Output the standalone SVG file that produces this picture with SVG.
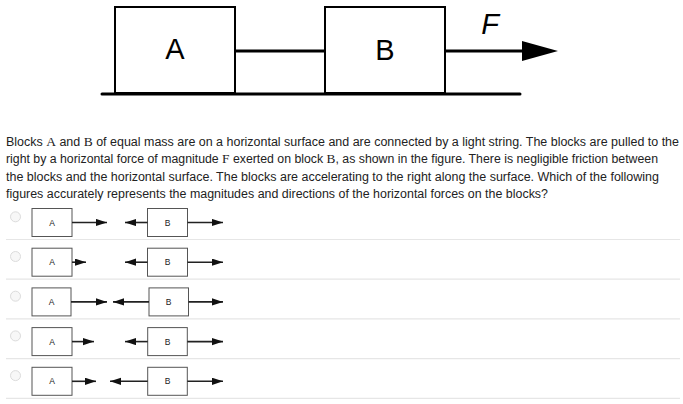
<svg xmlns="http://www.w3.org/2000/svg" width="683" height="404" viewBox="0 0 683 404">
<style>
.bigbox{fill:#fff;stroke:#000;stroke-width:2}
.big{font-family:"Liberation Sans",Arial,sans-serif;font-size:29px;fill:#000;text-anchor:middle}
.thick{stroke:#000;stroke-width:3;fill:none}
.para{font-family:"Liberation Sans",Arial,sans-serif;font-size:12px;fill:#222}
.ser{font-family:"Liberation Serif","Times New Roman",serif;font-size:13px}
.sbox{fill:#fff;stroke:#555;stroke-width:1}
.slabel{font-family:"Liberation Sans",Arial,sans-serif;font-size:8.5px;fill:#222;text-anchor:middle}
.arr{stroke:#222;stroke-width:1.6;fill:none;marker-end:url(#ah)}
.sep{stroke:#e6e6e6;stroke-width:1.2}
.radio{fill:#f7f7f7;stroke:#dcdcdc;stroke-width:1}
</style>
<defs>
<marker id="ah" markerUnits="userSpaceOnUse" markerWidth="12" markerHeight="8" refX="11" refY="3.6" orient="auto">
<path d="M0,0 L11,3.6 L0,7.2 z" fill="#111"/>
</marker>
</defs>

<!-- top figure -->
<g id="ground"><line x1="102" y1="94" x2="520" y2="94" stroke="#000" stroke-width="3" stroke-linecap="round"/></g>
<g id="blockA"><rect class="bigbox" x="115" y="7" width="120" height="86"/><text class="big" x="175" y="59">A</text></g>
<g id="blockB"><rect class="bigbox" x="325" y="7" width="120" height="86"/><text class="big" x="385" y="60">B</text></g>
<g id="forceLabel"><text x="490" y="34" font-family="Liberation Sans,Arial,sans-serif" font-size="29" font-style="italic" text-anchor="middle">F</text></g>
<g id="connectors">
<line class="thick" x1="236" y1="51" x2="324" y2="51"/>
<line class="thick" x1="446" y1="51" x2="525" y2="51"/>
<polygon points="522,41 558,51 522,61" fill="#000"/>
</g>

<!-- question text -->
<g id="question" class="para">
<text x="6" y="146" textLength="673" lengthAdjust="spacingAndGlyphs">Blocks <tspan class="ser">A</tspan> and <tspan class="ser">B</tspan> of equal mass are on a horizontal surface and are connected by a light string. The blocks are pulled to the</text>
<text x="6" y="163.3" textLength="652" lengthAdjust="spacingAndGlyphs">right by a horizontal force of magnitude <tspan class="ser">F</tspan> exerted on block <tspan class="ser">B</tspan>, as shown in the figure. There is negligible friction between</text>
<text x="6" y="180.6" textLength="653" lengthAdjust="spacingAndGlyphs">the blocks and the horizontal surface. The blocks are accelerating to the right along the surface. Which of the following</text>
<text x="6" y="197.9" textLength="542" lengthAdjust="spacingAndGlyphs">figures accurately represents the magnitudes and directions of the horizontal forces on the blocks?</text>
</g>

<!-- option rows -->
<g id="option1">
<circle class="radio" cx="15.5" cy="216.8" r="5"/>
<rect class="sbox" x="32" y="208.5" width="40" height="28"/><text class="slabel" x="52" y="225.5">A</text>
<rect class="sbox" x="147.5" y="208.5" width="40" height="28"/><text class="slabel" x="167.5" y="225.5">B</text>
<line class="sep" x1="6" y1="239.5" x2="680" y2="239.5"/>
</g>
<g id="option2">
<circle class="radio" cx="15.5" cy="256.5" r="5"/>
<rect class="sbox" x="32" y="248.2" width="40" height="28"/><text class="slabel" x="52" y="265.2">A</text>
<rect class="sbox" x="147.5" y="248.2" width="40" height="28"/><text class="slabel" x="167.5" y="265.2">B</text>
<line class="sep" x1="6" y1="279.2" x2="680" y2="279.2"/>
</g>
<g id="option3">
<circle class="radio" cx="15.5" cy="296.2" r="5"/>
<rect class="sbox" x="32" y="287.9" width="39" height="28"/><text class="slabel" x="51.5" y="304.9">A</text>
<rect class="sbox" x="149" y="287.9" width="39.5" height="28"/><text class="slabel" x="168.7" y="304.9">B</text>
<line class="sep" x1="6" y1="318.9" x2="680" y2="318.9"/>
</g>
<g id="option4">
<circle class="radio" cx="15.5" cy="335.9" r="5"/>
<rect class="sbox" x="32" y="327.6" width="40" height="28"/><text class="slabel" x="52" y="344.6">A</text>
<rect class="sbox" x="147.7" y="327.6" width="39.6" height="28"/><text class="slabel" x="167.5" y="344.6">B</text>
<line class="sep" x1="6" y1="358.6" x2="680" y2="358.6"/>
</g>
<g id="option5">
<circle class="radio" cx="15.5" cy="375.6" r="5"/>
<rect class="sbox" x="32" y="367.3" width="40" height="28"/><text class="slabel" x="52" y="384.3">A</text>
<rect class="sbox" x="147.7" y="367.3" width="39.6" height="28"/><text class="slabel" x="167.5" y="384.3">B</text>
<line class="sep" x1="6" y1="398.3" x2="680" y2="398.3"/>
</g>

<g id="option-arrows">
<line class="arr" x1="72" y1="222.5" x2="107" y2="222.5"/>
<line class="arr" x1="147.5" y1="222.5" x2="125" y2="222.5"/>
<line class="arr" x1="187.5" y1="222.5" x2="223" y2="222.5"/>

<line class="arr" x1="72" y1="262.2" x2="86" y2="262.2"/>
<line class="arr" x1="147.5" y1="262.2" x2="125" y2="262.2"/>
<line class="arr" x1="187.5" y1="262.2" x2="223" y2="262.2"/>

<line class="arr" x1="71" y1="301.9" x2="107" y2="301.9"/>
<line class="arr" x1="149" y1="301.9" x2="113" y2="301.9"/>
<line class="arr" x1="188.5" y1="301.9" x2="223" y2="301.9"/>

<line class="arr" x1="72" y1="341.6" x2="94" y2="341.6"/>
<line class="arr" x1="147.7" y1="341.6" x2="125" y2="341.6"/>
<line class="arr" x1="187.3" y1="341.6" x2="223" y2="341.6"/>

<line class="arr" x1="72" y1="381.3" x2="96" y2="381.3"/>
<line class="arr" x1="147.7" y1="381.3" x2="110" y2="381.3"/>
<line class="arr" x1="187.3" y1="381.3" x2="223" y2="381.3"/>
</g>
</svg>
